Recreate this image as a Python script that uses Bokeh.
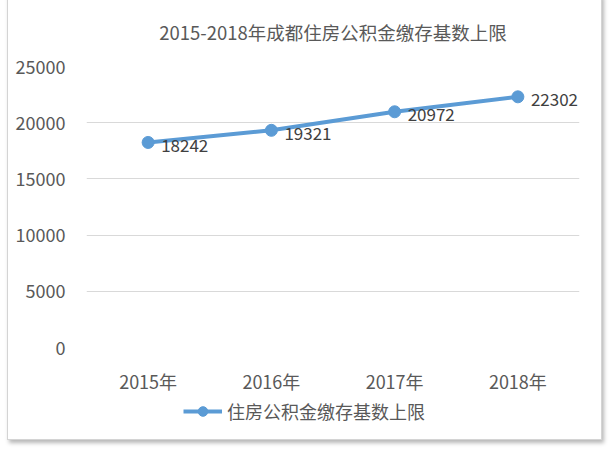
from bokeh.plotting import figure
from bokeh.layouts import column
from bokeh.models import ColumnDataSource, Legend, LegendItem, Range1d, FactorRange, SingleIntervalTicker, LabelSet
from bokeh.embed import file_html
from bokeh.resources import INLINE
from bokeh.core.properties import value

title = "2015-2018年成都住房公积金缴存基数上限"
years = ["2015年", "2016年", "2017年", "2018年"]
upper_limit = [18242, 19321, 20972, 22302]
series_name = "住房公积金缴存基数上限"

FONT = "Noto Sans CJK SC"
LINE = "#5B9BD5"

src = ColumnDataSource(dict(x=years, y=upper_limit, lab=[str(v) for v in upper_limit]))

p = figure(width=593, height=401, x_range=FactorRange(*years, range_padding=0),
           y_range=Range1d(0, 25000), output_backend="svg", toolbar_location=None,
           min_border_left=78, min_border_right=22, min_border_top=0, min_border_bottom=48)
p.outline_line_color = None
p.background_fill_color = "white"
p.border_fill_color = "white"

p.yaxis.ticker = SingleIntervalTicker(interval=5000)
p.xgrid.grid_line_color = None
p.ygrid.grid_line_color = "#D9D9D9"
p.ygrid.grid_line_width = 1
for ax in (p.xaxis[0], p.yaxis[0]):
    ax.axis_line_color = None
    ax.major_tick_line_color = None
    ax.minor_tick_line_color = None
    ax.major_label_text_font = FONT
    ax.major_label_text_color = "#595959"
    ax.major_label_text_font_size = "18px"
p.xaxis.major_label_standoff = 14
p.yaxis.major_label_standoff = 15

p.line("x", "y", source=src, line_color=LINE, line_width=4)
p.scatter("x", "y", source=src, size=12, fill_color=LINE, line_color=LINE)

labels = LabelSet(x="x", y="y", text="lab", source=src, x_offset=13, y_offset=-3,
                  text_font=value(FONT), text_font_size="17px", text_color="#404040",
                  text_baseline="middle", text_align="left")
p.add_layout(labels)

p.title.text = title
p.title.text_font = FONT
p.title.text_font_size = "18.5px"
p.title.text_font_style = "normal"
p.title.text_color = "#595959"
p.title.align = "center"
p.title.offset = -29
p.title.standoff = 43

# legend strip below the chart (series drawn out of view, only its legend shows)
q = figure(width=593, height=43, x_range=FactorRange(*years, range_padding=0),
           y_range=Range1d(-2, -1), output_backend="svg", toolbar_location=None,
           x_axis_location=None, y_axis_location=None,
           min_border_left=0, min_border_right=0, min_border_top=0, min_border_bottom=0)
q.grid.grid_line_color = None
q.outline_line_color = None
q.background_fill_color = "white"
q.border_fill_color = "white"
ql = q.line("x", "y", source=src, line_color=LINE, line_width=4)
qs = q.scatter("x", "y", source=src, size=12, fill_color=LINE, line_color=LINE)
legend = Legend(items=[LegendItem(label=series_name, renderers=[ql, qs])],
                location=(97, 15), orientation="horizontal",
                label_text_font=FONT, label_text_font_size="18px", label_text_color="#595959",
                border_line_color=None, background_fill_alpha=0,
                glyph_width=39, glyph_height=24, label_height=24, label_standoff=5,
                padding=0, margin=0)
q.add_layout(legend, "center")

layout = column(p, q, spacing=0)
layout.styles = {"margin-left": "7px", "margin-top": "-6px", "border": "1px solid #d4d4d4",
                 "box-shadow": "2px 3px 4px #b8b8b8", "background": "white"}

open("out.html", "w").write(file_html(layout, INLINE))
